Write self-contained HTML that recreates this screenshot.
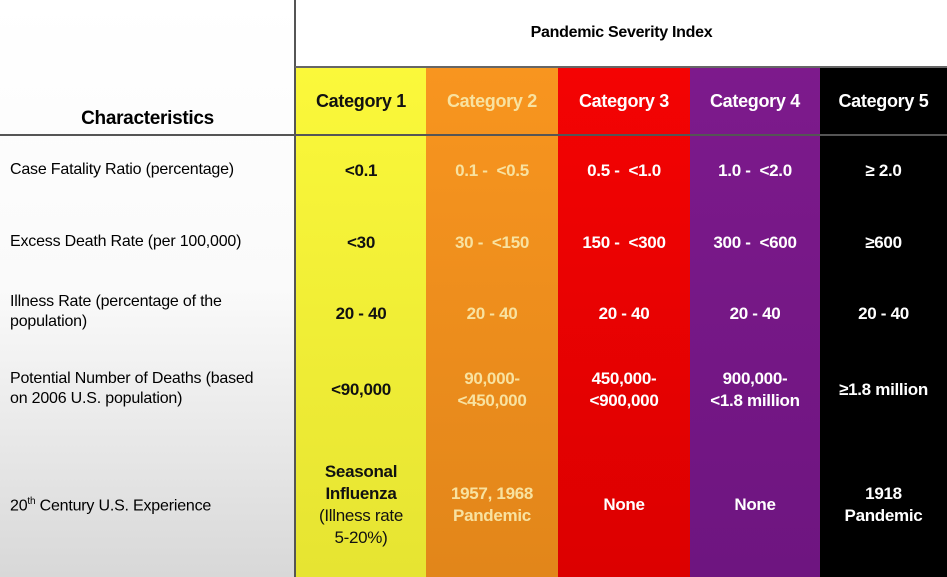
<!DOCTYPE html>
<html><head><meta charset="utf-8"><style>
body{margin:0;width:947px;height:577px;overflow:hidden;font-family:"Liberation Sans",Arial,sans-serif;background:#fff}
.a{position:absolute}
.col{position:absolute;top:67px;height:510px}
.c{position:absolute;display:flex;align-items:center;justify-content:center;text-align:center;font-weight:bold;font-size:17px;line-height:22px;letter-spacing:-0.3px}
.l{position:absolute;left:10px;width:282px;display:flex;align-items:center;font-size:16px;line-height:20px;color:#000;letter-spacing:-0.2px}
</style></head><body>
<div class="a" style="left:0;top:0;width:295px;height:577px;background:linear-gradient(#fff 0%,#fafafa 50%,#d8d8d8 100%)"></div>
<div class="a" style="left:296px;top:0;width:651px;height:67px;background:#fff"></div>
<div class="col" style="left:296px;width:130px;background:linear-gradient(#fbf83a,#e6e432)"></div>
<div class="col" style="left:426px;width:132px;background:linear-gradient(#f8951f,#e2861a)"></div>
<div class="col" style="left:558px;width:132px;background:linear-gradient(#f40303,#dc0000)"></div>
<div class="col" style="left:690px;width:130px;background:linear-gradient(#7d1a8c,#6e1580)"></div>
<div class="col" style="left:820px;width:127px;background:#000"></div>
<div class="a" style="left:294px;top:0;width:2px;height:577px;background:#555"></div>
<div class="a" style="left:295px;top:66px;width:652px;height:2px;background:#666"></div>
<div class="a" style="left:0;top:134px;width:947px;height:2px;background:#555"></div>
<div class="c" style="left:296px;top:20px;width:651px;height:25px;font-size:16px">Pandemic Severity Index</div>
<div class="c" style="left:0;top:106px;width:295px;height:25px;font-size:19px">Characteristics</div>

<div class="c" style="left:296px;top:88px;width:130px;height:25px;color:#111;font-size:18px">Category 1</div>
<div class="c" style="left:426px;top:88px;width:132px;height:25px;color:#f8e2a0;font-size:18px">Category 2</div>
<div class="c" style="left:558px;top:88px;width:132px;height:25px;color:#fff;font-size:18px">Category 3</div>
<div class="c" style="left:690px;top:88px;width:130px;height:25px;color:#fff;font-size:18px">Category 4</div>
<div class="c" style="left:820px;top:88px;width:127px;height:25px;color:#fff;font-size:18px">Category 5</div>

<div class="l" style="top:158px;height:24px">Case Fatality Ratio (percentage)</div>
<div class="l" style="top:230px;height:24px">Excess Death Rate (per 100,000)</div>
<div class="l" style="top:292px;height:40px"><div>Illness Rate (percentage of the<br>population)</div></div>
<div class="l" style="top:369px;height:40px"><div>Potential Number of Deaths (based<br>on 2006 U.S. population)</div></div>
<div class="l" style="top:492px;height:24px"><div>20<sup style="font-size:10px">th</sup> Century U.S. Experience</div></div>

<div id="cells"></div>
<script>
const rowTops=[159,231,302,368,445];
const rowHeights=[24,24,24,44,120];
const colLefts=[296,426,558,690,820];
const colWidths=[130,132,132,130,127];
const colColors=['#111','#f8e2a0','#fff','#fff','#fff'];
const cellText=[
['&lt;0.1','0.1 - &nbsp;&lt;0.5','0.5 - &nbsp;&lt;1.0','1.0 - &nbsp;&lt;2.0','≥ 2.0'],
['&lt;30','30 - &nbsp;&lt;150','150 - &nbsp;&lt;300','300 - &nbsp;&lt;600','≥600'],
['20 - 40','20 - 40','20 - 40','20 - 40','20 - 40'],
['&lt;90,000','90,000-<br>&lt;450,000','450,000-<br>&lt;900,000','900,000-<br>&lt;1.8 million','≥1.8 million'],
['Seasonal<br>Influenza<br><span style="font-weight:normal">(Illness rate<br>5-20%)</span>','1957, 1968<br>Pandemic','None','None','1918<br>Pandemic']
];
const host=document.getElementById('cells');
cellText.forEach((row,r)=>row.forEach((t,c)=>{
 const d=document.createElement('div');
 d.className='c';
 
 
 d.style.left=colLefts[c]+'px';d.style.width=colWidths[c]+'px';
 d.style.top=rowTops[r]+'px';d.style.height=rowHeights[r]+'px';
 d.style.color=colColors[c];
 const inner=document.createElement('div');
 inner.innerHTML=t;d.appendChild(inner);host.appendChild(d);
}));
</script>
</body></html>
